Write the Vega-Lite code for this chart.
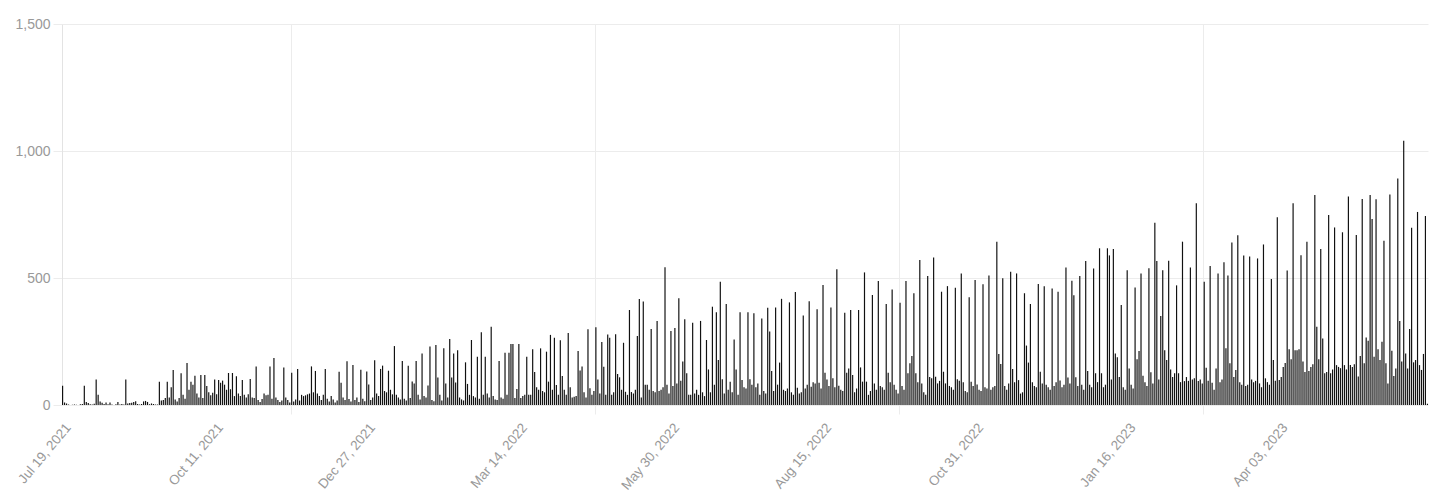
{
"$schema": "https://vega.github.io/schema/vega-lite/v6.json",
"width": 1366, "height": 381,
"autosize": "none",
"padding": {"left": 62, "top": 24, "right": 2, "bottom": 90},
"background": "white",
"config": {"view": {"stroke": null}},
"data": {"values": [
{"d":"2021-07-19","v":76},{"d":"2021-07-20","v":10},{"d":"2021-07-21","v":6},{"d":"2021-07-22","v":2},{"d":"2021-07-23","v":0},{"d":"2021-07-24","v":1},{"d":"2021-07-26","v":2},{"d":"2021-07-27","v":1},{"d":"2021-07-28","v":0},{"d":"2021-07-29","v":3},{"d":"2021-07-30","v":4},
{"d":"2021-08-02","v":76},{"d":"2021-08-03","v":12},{"d":"2021-08-04","v":8},{"d":"2021-08-05","v":3},{"d":"2021-08-06","v":2},{"d":"2021-08-07","v":5},{"d":"2021-08-09","v":100},{"d":"2021-08-10","v":40},{"d":"2021-08-11","v":14},{"d":"2021-08-12","v":9},{"d":"2021-08-13","v":4},{"d":"2021-08-14","v":10},{"d":"2021-08-16","v":3},{"d":"2021-08-17","v":10},{"d":"2021-08-18","v":2},{"d":"2021-08-19","v":0},{"d":"2021-08-20","v":3},{"d":"2021-08-21","v":12},{"d":"2021-08-23","v":2},{"d":"2021-08-24","v":4},{"d":"2021-08-25","v":2},{"d":"2021-08-26","v":100},{"d":"2021-08-27","v":6},{"d":"2021-08-28","v":8},{"d":"2021-08-30","v":9},{"d":"2021-08-31","v":12},
{"d":"2021-09-01","v":15},{"d":"2021-09-02","v":4},{"d":"2021-09-03","v":2},{"d":"2021-09-04","v":4},{"d":"2021-09-05","v":14},{"d":"2021-09-06","v":16},{"d":"2021-09-07","v":12},{"d":"2021-09-08","v":3},{"d":"2021-09-09","v":6},{"d":"2021-09-10","v":4},{"d":"2021-09-11","v":2},{"d":"2021-09-12","v":2},{"d":"2021-09-13","v":92},{"d":"2021-09-14","v":18},{"d":"2021-09-15","v":20},{"d":"2021-09-16","v":28},{"d":"2021-09-17","v":92},{"d":"2021-09-18","v":30},{"d":"2021-09-19","v":70},{"d":"2021-09-20","v":138},{"d":"2021-09-21","v":22},{"d":"2021-09-22","v":14},{"d":"2021-09-23","v":28},{"d":"2021-09-24","v":125},{"d":"2021-09-25","v":40},{"d":"2021-09-26","v":25},{"d":"2021-09-27","v":165},{"d":"2021-09-28","v":60},{"d":"2021-09-29","v":92},{"d":"2021-09-30","v":80},
{"d":"2021-10-01","v":115},{"d":"2021-10-02","v":45},{"d":"2021-10-03","v":30},{"d":"2021-10-04","v":118},{"d":"2021-10-05","v":28},{"d":"2021-10-06","v":118},{"d":"2021-10-07","v":75},{"d":"2021-10-08","v":50},{"d":"2021-10-09","v":38},{"d":"2021-10-10","v":48},{"d":"2021-10-11","v":100},{"d":"2021-10-12","v":42},{"d":"2021-10-13","v":98},{"d":"2021-10-14","v":88},{"d":"2021-10-15","v":96},{"d":"2021-10-16","v":80},{"d":"2021-10-17","v":60},{"d":"2021-10-18","v":126},{"d":"2021-10-19","v":62},{"d":"2021-10-20","v":126},{"d":"2021-10-21","v":35},{"d":"2021-10-22","v":113},{"d":"2021-10-23","v":45},{"d":"2021-10-24","v":35},{"d":"2021-10-25","v":98},{"d":"2021-10-26","v":40},{"d":"2021-10-27","v":30},{"d":"2021-10-28","v":42},{"d":"2021-10-29","v":102},{"d":"2021-10-30","v":30},{"d":"2021-10-31","v":28},
{"d":"2021-11-01","v":152},{"d":"2021-11-02","v":20},{"d":"2021-11-03","v":12},{"d":"2021-11-04","v":24},{"d":"2021-11-05","v":45},{"d":"2021-11-06","v":38},{"d":"2021-11-07","v":40},{"d":"2021-11-08","v":152},{"d":"2021-11-09","v":25},{"d":"2021-11-10","v":185},{"d":"2021-11-11","v":30},{"d":"2021-11-12","v":20},{"d":"2021-11-13","v":12},{"d":"2021-11-14","v":18},{"d":"2021-11-15","v":148},{"d":"2021-11-16","v":30},{"d":"2021-11-17","v":20},{"d":"2021-11-18","v":10},{"d":"2021-11-19","v":127},{"d":"2021-11-20","v":14},{"d":"2021-11-21","v":22},{"d":"2021-11-22","v":142},{"d":"2021-11-23","v":18},{"d":"2021-11-24","v":40},{"d":"2021-11-25","v":35},{"d":"2021-11-26","v":38},{"d":"2021-11-27","v":42},{"d":"2021-11-28","v":45},{"d":"2021-11-29","v":152},{"d":"2021-11-30","v":50},
{"d":"2021-12-01","v":134},{"d":"2021-12-02","v":45},{"d":"2021-12-03","v":35},{"d":"2021-12-04","v":20},{"d":"2021-12-05","v":40},{"d":"2021-12-06","v":142},{"d":"2021-12-07","v":25},{"d":"2021-12-08","v":14},{"d":"2021-12-09","v":35},{"d":"2021-12-10","v":22},{"d":"2021-12-11","v":10},{"d":"2021-12-12","v":18},{"d":"2021-12-13","v":131},{"d":"2021-12-14","v":88},{"d":"2021-12-15","v":30},{"d":"2021-12-16","v":20},{"d":"2021-12-17","v":172},{"d":"2021-12-18","v":24},{"d":"2021-12-19","v":14},{"d":"2021-12-20","v":157},{"d":"2021-12-21","v":20},{"d":"2021-12-22","v":30},{"d":"2021-12-23","v":12},{"d":"2021-12-24","v":139},{"d":"2021-12-25","v":25},{"d":"2021-12-26","v":15},{"d":"2021-12-27","v":132},{"d":"2021-12-28","v":81},{"d":"2021-12-29","v":20},{"d":"2021-12-30","v":30},{"d":"2021-12-31","v":176},
{"d":"2022-01-01","v":45},{"d":"2022-01-02","v":35},{"d":"2022-01-03","v":142},{"d":"2022-01-04","v":155},{"d":"2022-01-05","v":55},{"d":"2022-01-06","v":50},{"d":"2022-01-07","v":135},{"d":"2022-01-08","v":60},{"d":"2022-01-09","v":42},{"d":"2022-01-10","v":232},{"d":"2022-01-11","v":40},{"d":"2022-01-12","v":30},{"d":"2022-01-13","v":22},{"d":"2022-01-14","v":173},{"d":"2022-01-15","v":25},{"d":"2022-01-16","v":18},{"d":"2022-01-17","v":155},{"d":"2022-01-18","v":28},{"d":"2022-01-19","v":93},{"d":"2022-01-20","v":85},{"d":"2022-01-21","v":173},{"d":"2022-01-22","v":40},{"d":"2022-01-23","v":22},{"d":"2022-01-24","v":203},{"d":"2022-01-25","v":35},{"d":"2022-01-26","v":30},{"d":"2022-01-27","v":77},{"d":"2022-01-28","v":230},{"d":"2022-01-29","v":20},{"d":"2022-01-30","v":15},{"d":"2022-01-31","v":236},
{"d":"2022-02-01","v":108},{"d":"2022-02-02","v":40},{"d":"2022-02-03","v":18},{"d":"2022-02-04","v":223},{"d":"2022-02-05","v":85},{"d":"2022-02-06","v":30},{"d":"2022-02-07","v":260},{"d":"2022-02-08","v":108},{"d":"2022-02-09","v":203},{"d":"2022-02-10","v":89},{"d":"2022-02-11","v":216},{"d":"2022-02-12","v":30},{"d":"2022-02-13","v":22},{"d":"2022-02-14","v":18},{"d":"2022-02-15","v":168},{"d":"2022-02-16","v":83},{"d":"2022-02-17","v":40},{"d":"2022-02-18","v":256},{"d":"2022-02-19","v":35},{"d":"2022-02-20","v":30},{"d":"2022-02-21","v":190},{"d":"2022-02-22","v":25},{"d":"2022-02-23","v":286},{"d":"2022-02-24","v":40},{"d":"2022-02-25","v":190},{"d":"2022-02-26","v":45},{"d":"2022-02-27","v":30},{"d":"2022-02-28","v":308},
{"d":"2022-03-01","v":35},{"d":"2022-03-02","v":22},{"d":"2022-03-03","v":20},{"d":"2022-03-04","v":173},{"d":"2022-03-05","v":30},{"d":"2022-03-06","v":25},{"d":"2022-03-07","v":206},{"d":"2022-03-08","v":40},{"d":"2022-03-09","v":206},{"d":"2022-03-10","v":240},{"d":"2022-03-11","v":240},{"d":"2022-03-12","v":28},{"d":"2022-03-13","v":63},{"d":"2022-03-14","v":240},{"d":"2022-03-15","v":28},{"d":"2022-03-16","v":35},{"d":"2022-03-17","v":40},{"d":"2022-03-18","v":190},{"d":"2022-03-19","v":40},{"d":"2022-03-20","v":40},{"d":"2022-03-21","v":219},{"d":"2022-03-22","v":130},{"d":"2022-03-23","v":70},{"d":"2022-03-24","v":60},{"d":"2022-03-25","v":223},{"d":"2022-03-26","v":55},{"d":"2022-03-27","v":50},{"d":"2022-03-28","v":210},{"d":"2022-03-29","v":92},{"d":"2022-03-30","v":276},{"d":"2022-03-31","v":60},
{"d":"2022-04-01","v":265},{"d":"2022-04-02","v":79},{"d":"2022-04-03","v":40},{"d":"2022-04-04","v":255},{"d":"2022-04-05","v":114},{"d":"2022-04-06","v":60},{"d":"2022-04-07","v":40},{"d":"2022-04-08","v":283},{"d":"2022-04-09","v":70},{"d":"2022-04-10","v":30},{"d":"2022-04-11","v":32},{"d":"2022-04-12","v":35},{"d":"2022-04-13","v":213},{"d":"2022-04-14","v":136},{"d":"2022-04-15","v":152},{"d":"2022-04-16","v":50},{"d":"2022-04-17","v":30},{"d":"2022-04-18","v":298},{"d":"2022-04-19","v":66},{"d":"2022-04-20","v":40},{"d":"2022-04-21","v":55},{"d":"2022-04-22","v":306},{"d":"2022-04-23","v":100},{"d":"2022-04-24","v":45},{"d":"2022-04-25","v":248},{"d":"2022-04-26","v":151},{"d":"2022-04-27","v":40},{"d":"2022-04-28","v":278},{"d":"2022-04-29","v":265},{"d":"2022-04-30","v":40},
{"d":"2022-05-01","v":50},{"d":"2022-05-02","v":279},{"d":"2022-05-03","v":122},{"d":"2022-05-04","v":109},{"d":"2022-05-05","v":60},{"d":"2022-05-06","v":245},{"d":"2022-05-07","v":52},{"d":"2022-05-08","v":40},{"d":"2022-05-09","v":374},{"d":"2022-05-10","v":51},{"d":"2022-05-11","v":45},{"d":"2022-05-12","v":60},{"d":"2022-05-13","v":272},{"d":"2022-05-14","v":417},{"d":"2022-05-15","v":30},{"d":"2022-05-16","v":407},{"d":"2022-05-17","v":80},{"d":"2022-05-18","v":80},{"d":"2022-05-19","v":60},{"d":"2022-05-20","v":299},{"d":"2022-05-21","v":55},{"d":"2022-05-22","v":50},{"d":"2022-05-23","v":331},{"d":"2022-05-24","v":55},{"d":"2022-05-25","v":60},{"d":"2022-05-26","v":70},{"d":"2022-05-27","v":542},{"d":"2022-05-28","v":80},{"d":"2022-05-29","v":45},{"d":"2022-05-30","v":291},{"d":"2022-05-31","v":75},
{"d":"2022-06-01","v":303},{"d":"2022-06-02","v":85},{"d":"2022-06-03","v":420},{"d":"2022-06-04","v":95},{"d":"2022-06-05","v":171},{"d":"2022-06-06","v":338},{"d":"2022-06-07","v":125},{"d":"2022-06-08","v":40},{"d":"2022-06-09","v":40},{"d":"2022-06-10","v":324},{"d":"2022-06-11","v":45},{"d":"2022-06-12","v":60},{"d":"2022-06-13","v":40},{"d":"2022-06-14","v":331},{"d":"2022-06-15","v":50},{"d":"2022-06-16","v":35},{"d":"2022-06-17","v":256},{"d":"2022-06-18","v":140},{"d":"2022-06-19","v":50},{"d":"2022-06-20","v":387},{"d":"2022-06-21","v":80},{"d":"2022-06-22","v":365},{"d":"2022-06-23","v":177},{"d":"2022-06-24","v":485},{"d":"2022-06-25","v":101},{"d":"2022-06-26","v":45},{"d":"2022-06-27","v":398},{"d":"2022-06-28","v":60},{"d":"2022-06-29","v":92},{"d":"2022-06-30","v":50},
{"d":"2022-07-01","v":258},{"d":"2022-07-02","v":140},{"d":"2022-07-03","v":40},{"d":"2022-07-04","v":365},{"d":"2022-07-05","v":98},{"d":"2022-07-06","v":70},{"d":"2022-07-07","v":65},{"d":"2022-07-08","v":365},{"d":"2022-07-09","v":101},{"d":"2022-07-10","v":80},{"d":"2022-07-11","v":361},{"d":"2022-07-12","v":70},{"d":"2022-07-13","v":85},{"d":"2022-07-14","v":40},{"d":"2022-07-15","v":341},{"d":"2022-07-16","v":55},{"d":"2022-07-17","v":45},{"d":"2022-07-18","v":383},{"d":"2022-07-19","v":289},{"d":"2022-07-20","v":134},{"d":"2022-07-21","v":55},{"d":"2022-07-22","v":384},{"d":"2022-07-23","v":80},{"d":"2022-07-24","v":167},{"d":"2022-07-25","v":418},{"d":"2022-07-26","v":60},{"d":"2022-07-27","v":55},{"d":"2022-07-28","v":65},{"d":"2022-07-29","v":404},{"d":"2022-07-30","v":50},{"d":"2022-07-31","v":40},
{"d":"2022-08-01","v":445},{"d":"2022-08-02","v":68},{"d":"2022-08-03","v":45},{"d":"2022-08-04","v":50},{"d":"2022-08-05","v":352},{"d":"2022-08-06","v":65},{"d":"2022-08-07","v":80},{"d":"2022-08-08","v":408},{"d":"2022-08-09","v":72},{"d":"2022-08-10","v":90},{"d":"2022-08-11","v":85},{"d":"2022-08-12","v":377},{"d":"2022-08-13","v":88},{"d":"2022-08-14","v":65},{"d":"2022-08-15","v":472},{"d":"2022-08-16","v":127},{"d":"2022-08-17","v":100},{"d":"2022-08-18","v":75},{"d":"2022-08-19","v":384},{"d":"2022-08-20","v":105},{"d":"2022-08-21","v":70},{"d":"2022-08-22","v":534},{"d":"2022-08-23","v":76},{"d":"2022-08-24","v":60},{"d":"2022-08-25","v":55},{"d":"2022-08-26","v":363},{"d":"2022-08-27","v":127},{"d":"2022-08-28","v":144},{"d":"2022-08-29","v":374},{"d":"2022-08-30","v":118},{"d":"2022-08-31","v":50},
{"d":"2022-09-01","v":65},{"d":"2022-09-02","v":374},{"d":"2022-09-03","v":148},{"d":"2022-09-04","v":92},{"d":"2022-09-05","v":522},{"d":"2022-09-06","v":92},{"d":"2022-09-07","v":40},{"d":"2022-09-08","v":55},{"d":"2022-09-09","v":433},{"d":"2022-09-10","v":85},{"d":"2022-09-11","v":60},{"d":"2022-09-12","v":488},{"d":"2022-09-13","v":75},{"d":"2022-09-14","v":70},{"d":"2022-09-15","v":60},{"d":"2022-09-16","v":398},{"d":"2022-09-17","v":127},{"d":"2022-09-18","v":90},{"d":"2022-09-19","v":455},{"d":"2022-09-20","v":80},{"d":"2022-09-21","v":60},{"d":"2022-09-22","v":45},{"d":"2022-09-23","v":403},{"d":"2022-09-24","v":75},{"d":"2022-09-25","v":60},{"d":"2022-09-26","v":488},{"d":"2022-09-27","v":125},{"d":"2022-09-28","v":164},{"d":"2022-09-29","v":193},{"d":"2022-09-30","v":440},
{"d":"2022-10-01","v":125},{"d":"2022-10-02","v":90},{"d":"2022-10-03","v":571},{"d":"2022-10-04","v":85},{"d":"2022-10-05","v":50},{"d":"2022-10-06","v":40},{"d":"2022-10-07","v":508},{"d":"2022-10-08","v":110},{"d":"2022-10-09","v":105},{"d":"2022-10-10","v":581},{"d":"2022-10-11","v":111},{"d":"2022-10-12","v":85},{"d":"2022-10-13","v":95},{"d":"2022-10-14","v":446},{"d":"2022-10-15","v":131},{"d":"2022-10-16","v":85},{"d":"2022-10-17","v":468},{"d":"2022-10-18","v":75},{"d":"2022-10-19","v":70},{"d":"2022-10-20","v":60},{"d":"2022-10-21","v":462},{"d":"2022-10-22","v":101},{"d":"2022-10-23","v":95},{"d":"2022-10-24","v":518},{"d":"2022-10-25","v":90},{"d":"2022-10-26","v":55},{"d":"2022-10-27","v":50},{"d":"2022-10-28","v":424},{"d":"2022-10-29","v":92},{"d":"2022-10-30","v":75},{"d":"2022-10-31","v":492},
{"d":"2022-11-01","v":81},{"d":"2022-11-02","v":60},{"d":"2022-11-03","v":55},{"d":"2022-11-04","v":475},{"d":"2022-11-05","v":70},{"d":"2022-11-06","v":65},{"d":"2022-11-07","v":510},{"d":"2022-11-08","v":60},{"d":"2022-11-09","v":70},{"d":"2022-11-10","v":75},{"d":"2022-11-11","v":643},{"d":"2022-11-12","v":201},{"d":"2022-11-13","v":161},{"d":"2022-11-14","v":499},{"d":"2022-11-15","v":75},{"d":"2022-11-16","v":60},{"d":"2022-11-17","v":85},{"d":"2022-11-18","v":525},{"d":"2022-11-19","v":142},{"d":"2022-11-20","v":90},{"d":"2022-11-21","v":518},{"d":"2022-11-22","v":98},{"d":"2022-11-23","v":45},{"d":"2022-11-24","v":50},{"d":"2022-11-25","v":440},{"d":"2022-11-26","v":234},{"d":"2022-11-27","v":167},{"d":"2022-11-28","v":398},{"d":"2022-11-29","v":90},{"d":"2022-11-30","v":75},
{"d":"2022-12-01","v":70},{"d":"2022-12-02","v":476},{"d":"2022-12-03","v":131},{"d":"2022-12-04","v":85},{"d":"2022-12-05","v":468},{"d":"2022-12-06","v":80},{"d":"2022-12-07","v":70},{"d":"2022-12-08","v":60},{"d":"2022-12-09","v":459},{"d":"2022-12-10","v":75},{"d":"2022-12-11","v":90},{"d":"2022-12-12","v":446},{"d":"2022-12-13","v":96},{"d":"2022-12-14","v":70},{"d":"2022-12-15","v":80},{"d":"2022-12-16","v":541},{"d":"2022-12-17","v":108},{"d":"2022-12-18","v":85},{"d":"2022-12-19","v":489},{"d":"2022-12-20","v":432},{"d":"2022-12-21","v":109},{"d":"2022-12-22","v":75},{"d":"2022-12-23","v":508},{"d":"2022-12-24","v":80},{"d":"2022-12-25","v":60},{"d":"2022-12-26","v":567},{"d":"2022-12-27","v":134},{"d":"2022-12-28","v":80},{"d":"2022-12-29","v":70},{"d":"2022-12-30","v":537},{"d":"2022-12-31","v":125},
{"d":"2023-01-01","v":90},{"d":"2023-01-02","v":617},{"d":"2023-01-03","v":125},{"d":"2023-01-04","v":70},{"d":"2023-01-05","v":80},{"d":"2023-01-06","v":617},{"d":"2023-01-07","v":589},{"d":"2023-01-08","v":100},{"d":"2023-01-09","v":614},{"d":"2023-01-10","v":203},{"d":"2023-01-11","v":188},{"d":"2023-01-12","v":110},{"d":"2023-01-13","v":394},{"d":"2023-01-14","v":70},{"d":"2023-01-15","v":60},{"d":"2023-01-16","v":531},{"d":"2023-01-17","v":144},{"d":"2023-01-18","v":80},{"d":"2023-01-19","v":65},{"d":"2023-01-20","v":463},{"d":"2023-01-21","v":180},{"d":"2023-01-22","v":213},{"d":"2023-01-23","v":518},{"d":"2023-01-24","v":115},{"d":"2023-01-25","v":90},{"d":"2023-01-26","v":75},{"d":"2023-01-27","v":538},{"d":"2023-01-28","v":129},{"d":"2023-01-29","v":85},{"d":"2023-01-30","v":718},{"d":"2023-01-31","v":567},
{"d":"2023-02-01","v":100},{"d":"2023-02-02","v":350},{"d":"2023-02-03","v":531},{"d":"2023-02-04","v":216},{"d":"2023-02-05","v":177},{"d":"2023-02-06","v":568},{"d":"2023-02-07","v":140},{"d":"2023-02-08","v":110},{"d":"2023-02-09","v":125},{"d":"2023-02-10","v":471},{"d":"2023-02-11","v":125},{"d":"2023-02-12","v":90},{"d":"2023-02-13","v":643},{"d":"2023-02-14","v":94},{"d":"2023-02-15","v":110},{"d":"2023-02-16","v":95},{"d":"2023-02-17","v":541},{"d":"2023-02-18","v":100},{"d":"2023-02-19","v":105},{"d":"2023-02-20","v":794},{"d":"2023-02-21","v":94},{"d":"2023-02-22","v":100},{"d":"2023-02-23","v":85},{"d":"2023-02-24","v":485},{"d":"2023-02-25","v":147},{"d":"2023-02-26","v":95},{"d":"2023-02-27","v":547},{"d":"2023-02-28","v":88},
{"d":"2023-03-01","v":60},{"d":"2023-03-02","v":144},{"d":"2023-03-03","v":518},{"d":"2023-03-04","v":90},{"d":"2023-03-05","v":100},{"d":"2023-03-06","v":562},{"d":"2023-03-07","v":223},{"d":"2023-03-08","v":510},{"d":"2023-03-09","v":164},{"d":"2023-03-10","v":640},{"d":"2023-03-11","v":110},{"d":"2023-03-12","v":138},{"d":"2023-03-13","v":668},{"d":"2023-03-14","v":90},{"d":"2023-03-15","v":80},{"d":"2023-03-16","v":589},{"d":"2023-03-17","v":75},{"d":"2023-03-18","v":80},{"d":"2023-03-19","v":585},{"d":"2023-03-20","v":100},{"d":"2023-03-21","v":90},{"d":"2023-03-22","v":95},{"d":"2023-03-23","v":577},{"d":"2023-03-24","v":85},{"d":"2023-03-25","v":70},{"d":"2023-03-26","v":632},{"d":"2023-03-27","v":105},{"d":"2023-03-28","v":90},{"d":"2023-03-29","v":80},{"d":"2023-03-30","v":496},{"d":"2023-03-31","v":177},
{"d":"2023-04-01","v":95},{"d":"2023-04-02","v":739},{"d":"2023-04-03","v":98},{"d":"2023-04-04","v":110},{"d":"2023-04-05","v":150},{"d":"2023-04-06","v":165},{"d":"2023-04-07","v":530},{"d":"2023-04-08","v":219},{"d":"2023-04-09","v":180},{"d":"2023-04-10","v":794},{"d":"2023-04-11","v":216},{"d":"2023-04-12","v":216},{"d":"2023-04-13","v":219},{"d":"2023-04-14","v":590},{"d":"2023-04-15","v":171},{"d":"2023-04-16","v":130},{"d":"2023-04-17","v":643},{"d":"2023-04-18","v":134},{"d":"2023-04-19","v":150},{"d":"2023-04-20","v":160},{"d":"2023-04-21","v":827},{"d":"2023-04-22","v":308},{"d":"2023-04-23","v":180},{"d":"2023-04-24","v":614},{"d":"2023-04-25","v":262},{"d":"2023-04-26","v":125},{"d":"2023-04-27","v":130},{"d":"2023-04-28","v":748},{"d":"2023-04-29","v":125},{"d":"2023-04-30","v":140},
{"d":"2023-05-01","v":699},{"d":"2023-05-02","v":157},{"d":"2023-05-03","v":150},{"d":"2023-05-04","v":145},{"d":"2023-05-05","v":680},{"d":"2023-05-06","v":157},{"d":"2023-05-07","v":140},{"d":"2023-05-08","v":821},{"d":"2023-05-09","v":157},{"d":"2023-05-10","v":150},{"d":"2023-05-11","v":160},{"d":"2023-05-12","v":669},{"d":"2023-05-13","v":112},{"d":"2023-05-14","v":193},{"d":"2023-05-15","v":811},{"d":"2023-05-16","v":164},{"d":"2023-05-17","v":266},{"d":"2023-05-18","v":253},{"d":"2023-05-19","v":827},{"d":"2023-05-20","v":732},{"d":"2023-05-21","v":190},{"d":"2023-05-22","v":810},{"d":"2023-05-23","v":219},{"d":"2023-05-24","v":177},{"d":"2023-05-25","v":249},{"d":"2023-05-26","v":647},{"d":"2023-05-27","v":164},{"d":"2023-05-28","v":85},{"d":"2023-05-29","v":829},{"d":"2023-05-30","v":214},{"d":"2023-05-31","v":114},
{"d":"2023-06-01","v":144},{"d":"2023-06-02","v":892},{"d":"2023-06-03","v":331},{"d":"2023-06-04","v":171},{"d":"2023-06-05","v":1040},{"d":"2023-06-06","v":203},{"d":"2023-06-07","v":144},{"d":"2023-06-08","v":299},{"d":"2023-06-09","v":698},{"d":"2023-06-10","v":168},{"d":"2023-06-11","v":177},{"d":"2023-06-12","v":760},{"d":"2023-06-13","v":157},{"d":"2023-06-14","v":138},{"d":"2023-06-15","v":201},{"d":"2023-06-16","v":744},{"d":"2023-06-17","v":5}
]},
"mark": {"type": "bar", "color": "#111111"},
"encoding": {
  "x": {
    "field": "d", "type": "ordinal",
    "scale": {"paddingInner": 0.4, "paddingOuter": 0},
    "axis": {
      "title": null,
      "values": ["2021-07-19","2021-10-11","2021-11-19","2021-12-27","2022-03-14","2022-04-22","2022-05-30","2022-08-15","2022-09-23","2022-10-31","2023-01-16","2023-02-24","2023-04-03"],
      "labelExpr": "indexof(['2021-11-19','2022-04-22','2022-09-23','2023-02-24'], datum.value) >= 0 ? '' : utcFormat(toDate(datum.value), '%b %d, %Y')",
      "bandPosition": 0,
      "grid": true,
      "gridColor": "#ececec",
      "gridOpacity": {"condition": {"test": "indexof(['2021-11-19','2022-04-22','2022-09-23','2023-02-24'], datum.value) >= 0", "value": 1}, "value": 0},
      "ticks": true,
      "tickColor": "#ececec",
      "tickSize": 9,
      "tickOpacity": {"condition": {"test": "indexof(['2021-11-19','2022-04-22','2022-09-23','2023-02-24'], datum.value) >= 0", "value": 1}, "value": 0},
      "domain": false,
      "labelAngle": -50,
      "labelAlign": "right",
      "labelBaseline": "middle",
      "labelPadding": 11,
      "labelOffset": 6,
      "labelColor": "#999999",
      "labelFont": "Liberation Sans",
      "labelFontSize": 13.5,
      "labelOverlap": false
    }
  },
  "y": {
    "field": "v", "type": "quantitative",
    "scale": {"domain": [0, 1500], "nice": false},
    "axis": {
      "title": null,
      "values": [0, 500, 1000, 1500],
      "labelExpr": "format(datum.value, ',.0f')",
      "grid": true,
      "gridColor": "#ececec",
      "tickColor": "#ececec",
      "tickSize": 9,
      "domainColor": "#e3e3e3",
      "labelColor": "#999999",
      "labelFont": "Liberation Sans",
      "labelFontSize": 14,
      "labelPadding": 3
    }
  }
}
}
